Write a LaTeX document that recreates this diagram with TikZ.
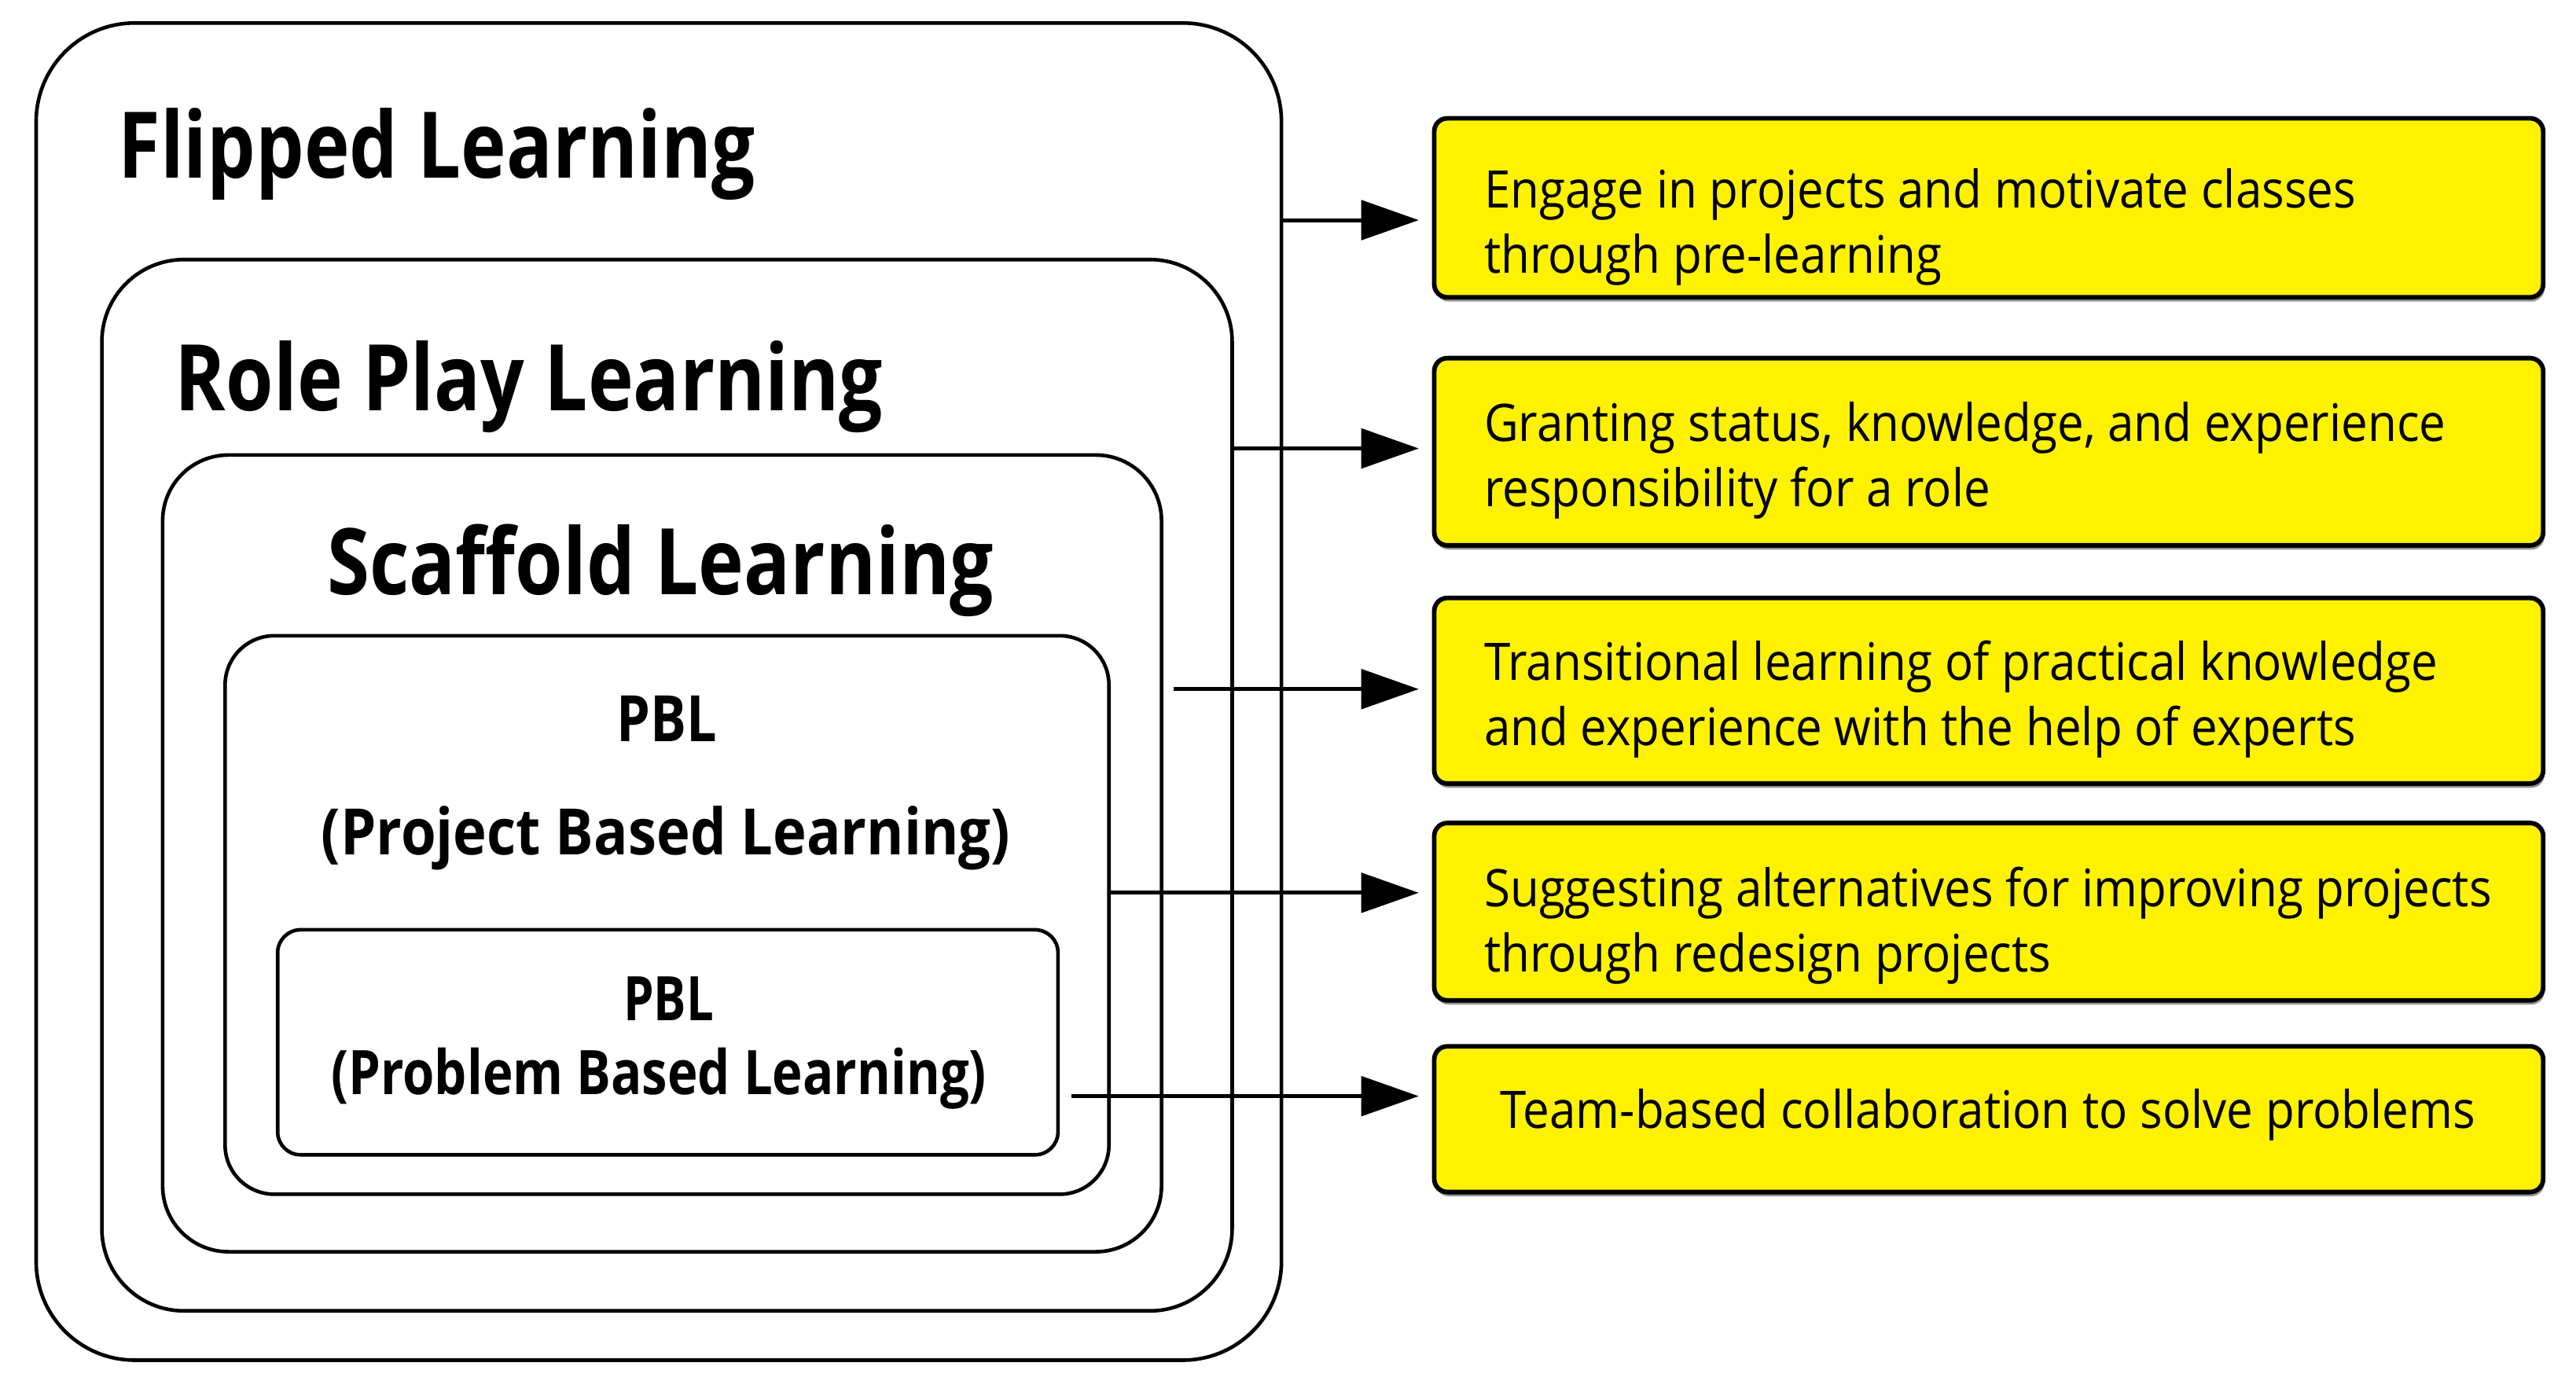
\documentclass[tikz,border=0pt]{standalone}
\usepackage{fontspec}
\setmainfont{Open Sans}
\newfontfamily\yfont[FakeStretch=0.913]{Open Sans}
\usetikzlibrary{arrows.meta,shadows}
\newsavebox\fitbox
\newdimen\fitwd
\newcommand\fitw[2]{\sbox\fitbox{#2}\fitwd=\wd\fitbox\pgfmathsetmacro\fitratio{#1/\fitwd}\scalebox{\fitratio}[1]{\usebox\fitbox}}
\begin{document}
\begin{tikzpicture}[x=0.5pt,y=-0.5pt,
  nest/.style={draw, line width=1.1pt, inner sep=0pt},
  ttl/.style={anchor=base west, inner sep=0pt, font=\fontsize{28pt}{34pt}\selectfont\bfseries},
  pbla/.style={anchor=base, inner sep=0pt, font=\fontsize{19.5pt}{24pt}\selectfont\bfseries},
  pblb/.style={anchor=base, inner sep=0pt, font=\fontsize{18.7pt}{23pt}\selectfont\bfseries},
  ybox/.style={draw, line width=1.4pt, fill=yellow, rounded corners=4pt, minimum width=337.5pt, inner sep=0pt,
    drop shadow={shadow xshift=0.4pt, shadow yshift=-1.3pt, opacity=0.6, fill=black!70}},
  ytext/.style={anchor=base west, inner sep=0pt, align=left, font=\yfont\fontsize{15.76pt}{19.85pt}\selectfont},
  arr/.style={line width=1.2pt, -{Triangle[length=17.5pt,width=12pt]}, shorten >=4pt}]
\useasboundingbox (0,0) rectangle (1568,847);
% nested frames
\node[nest, minimum width=379pt, minimum height=407pt, rounded corners=30pt] (flip) at (401,421) {};
\node[nest, minimum width=344pt, minimum height=320pt, rounded corners=25pt] (role) at (406,478) {};
\node[nest, minimum width=304pt, minimum height=242.5pt, rounded corners=20pt] (scaf) at (403,519.5) {};
\node[nest, minimum width=269pt, minimum height=170pt, rounded corners=15pt] (proj) at (406,557) {};
\node[nest, minimum width=237.5pt, minimum height=68.5pt, rounded corners=7pt] (prob) at (406.5,634.5) {};
% titles
\node[ttl] (tflip) at (71.6,108.5) {\fitw{193.9pt}{Flipped Learning}};
\node[ttl] (trole) at (106.3,250) {\fitw{215.4pt}{Role Play Learning}};
\node[ttl] (tscaf) at (198.8,362) {\fitw{202.9pt}{Scaffold Learning}};
\node[pbla] (pbl1) at (406,451.6) {\fitw{30.5pt}{PBL}};
\node[pbla] (tproj) at (405.3,520.4) {\fitw{209.75pt}{(Project Based Learning)}};
\node[pblb] (pbl2) at (407,621.5) {\fitw{27.5pt}{PBL}};
\node[pblb] (tprob) at (401,666.4) {\fitw{199.5pt}{(Problem Based Learning)}};
% yellow boxes
\node[ybox, minimum height=54.5pt] (y1) at (1210.5,126.5) {};
\node[ybox, minimum height=57pt] (y2) at (1210.5,275) {};
\node[ybox, minimum height=56.5pt] (y3) at (1210.5,420.5) {};
\node[ybox, minimum height=54pt] (y4) at (1210.5,555) {};
\node[ybox, minimum height=44.35pt] (y5) at (1210.5,681.3) {};
% (base anchor of a two-line node = baseline of its last line)
\node[ytext] (t1) at (903,166.3) {Engage in projects and motivate classes\\through pre-learning};
\node[ytext] (t2) at (903,308.4) {Granting status, knowledge, and experience\\responsibility for a role};
\node[ytext] (t3) at (903,453.8) {Transitional learning of practical knowledge\\and experience with the help of experts};
\node[ytext] (t4) at (903,591.6) {Suggesting alternatives for improving projects\\through redesign projects};
\node[ytext, anchor=base] (t5) at (1210,687) {Team-based collaboration to solve problems};
% arrows
\coordinate (h1) at (0,134);
\coordinate (h2) at (0,273);
\coordinate (h3) at (0,419.5);
\coordinate (h4) at (0,543.5);
\coordinate (h5) at (0,667.3);
\draw[arr] (flip.east |- h1) -- (y1.west |- h1);
\draw[arr] (role.east |- h2) -- (y2.west |- h2);
\draw[arr, shorten <=3.25pt] (scaf.east |- h3) -- (y3.west |- h3);
\draw[arr] (proj.east |- h4) -- (y4.west |- h4);
\draw[arr, shorten <=3.5pt] (prob.east |- h5) -- (y5.west |- h5);
\end{tikzpicture}
\end{document}
